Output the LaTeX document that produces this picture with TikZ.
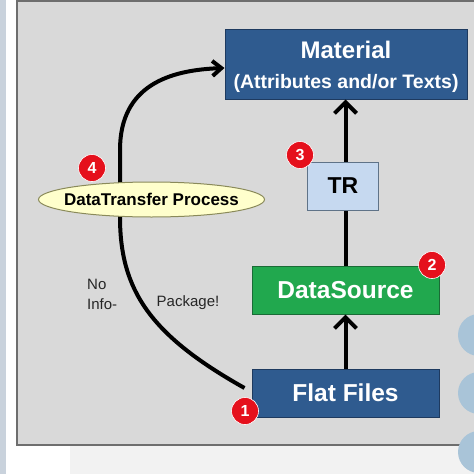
\documentclass[tikz,border=0pt]{standalone}
\usepackage{fontspec}
\setmainfont{Liberation Sans}
\usetikzlibrary{arrows.meta,shapes.geometric,calc}
\definecolor{panel}{HTML}{D9D9D9}
\definecolor{panelborder}{HTML}{6E6E6E}
\definecolor{leftbar}{HTML}{C9D2DC}
\definecolor{lowgray}{HTML}{F2F2F2}
\definecolor{darkblue}{HTML}{2F5B8F}
\definecolor{darkblueb}{HTML}{1E3A5F}
\definecolor{dsgreen}{HTML}{21A84E}
\definecolor{dsgreenb}{HTML}{1A6B36}
\definecolor{trfill}{HTML}{C6D9F0}
\definecolor{trborder}{HTML}{5F7388}
\definecolor{ellfill}{HTML}{FFFFCC}
\definecolor{ellborder}{HTML}{8A8A5A}
\definecolor{badge}{HTML}{E5101C}
\definecolor{sidecirc}{HTML}{A9C4D8}
\tikzset{
  bluebox/.style={draw=darkblueb, fill=darkblue, line width=1pt, text=white, font=\bfseries, inner sep=0pt},
  greenbox/.style={draw=dsgreenb, fill=dsgreen, line width=1pt, text=white, font=\bfseries, inner sep=0pt},
  trbox/.style={draw=trborder, fill=trfill, line width=1pt, text=black, font=\bfseries, inner sep=0pt},
  dtp/.style={ellipse, draw=ellborder, fill=ellfill, line width=1pt, inner xsep=-7.5pt, inner ysep=0pt, font=\bfseries\fontsize{17}{20}\selectfont},
  numbadge/.style={circle, fill=badge, draw=white, line width=0.6pt, minimum size=27pt, inner sep=0pt, text=white, font=\bfseries\fontsize{16}{18}\selectfont},
  flow/.style={line width=4pt, draw=black},
  bigtip/.style={-{Straight Barb[length=11pt,width=22pt]}},
  smalltip/.style={-{Straight Barb[length=9pt,width=15pt]}},
  note/.style={font=\fontsize{15}{18}\selectfont, text=black!85, inner sep=0pt}
}
\begin{document}
\begin{tikzpicture}[x=1pt,y=-1pt]
\useasboundingbox (0,0) rectangle (474,474);
\fill[white] (0,0) rectangle (474,474);
\fill[leftbar] (0,0) rectangle (6,474);
\fill[lowgray] (70,446) rectangle (474,474);
\filldraw[fill=panel, draw=panelborder, line width=1.6pt] (17,1) rectangle (495,445);
% side circles (cut off)
\fill[sidecirc] (479,335) circle (21);
\fill[sidecirc] (479,393) circle (21);
\fill[sidecirc] (479,452) circle (21);

\node[bluebox, minimum width=242pt, minimum height=70pt, align=center, text height=52pt, text depth=4pt] (mat) at (346,64)
  {{\fontsize{24}{24}\selectfont Material}\\[14pt]{\fontsize{19.5}{20}\selectfont (Attributes and/or Texts)}};
\node[trbox, minimum width=71pt, minimum height=48pt, font=\bfseries\fontsize{23}{24}\selectfont] (tr) at (343,186) {TR};
\node[greenbox, minimum width=187pt, minimum height=48pt, font=\bfseries\fontsize{24.5}{26}\selectfont] (ds) at (345.5,290) {DataSource};
\node[bluebox, minimum width=187pt, minimum height=48pt, font=\bfseries\fontsize{24.5}{26}\selectfont] (ff) at (345.5,393) {Flat Files};

\draw[flow, bigtip] (ff.north) -- (ds.south);
\draw[flow] (ds.north) -- (ds.north |- tr.south);
\draw[flow, bigtip] (ds.north |- tr.north) -- (ds.north |- mat.south);

\coordinate (cstart) at ($(ff.west)+(-7,-5)$);
\coordinate (cend) at ($(mat.west)+(0,4)$);
\draw[flow, smalltip] (cstart) .. controls (150,335) and (120,290) .. (120,217)
   -- (120,150) .. controls (120,85) and (170,70) .. (cend);

\node[dtp, minimum height=35pt] (dtpn) at (151.5,199.5) {DataTransfer Process};

\node[note, anchor=west, align=left] (noinfo) at (87,294) {No\\[2pt]Info-};
\node[note] (pkg) at (188,303) {Package!};

\node[numbadge] (b1) at (245,411) {1};
\node[numbadge] (b2) at (432,265) {2};
\node[numbadge] (b3) at (300,155) {3};
\node[numbadge] (b4) at (92,168) {4};
\end{tikzpicture}
\end{document}
